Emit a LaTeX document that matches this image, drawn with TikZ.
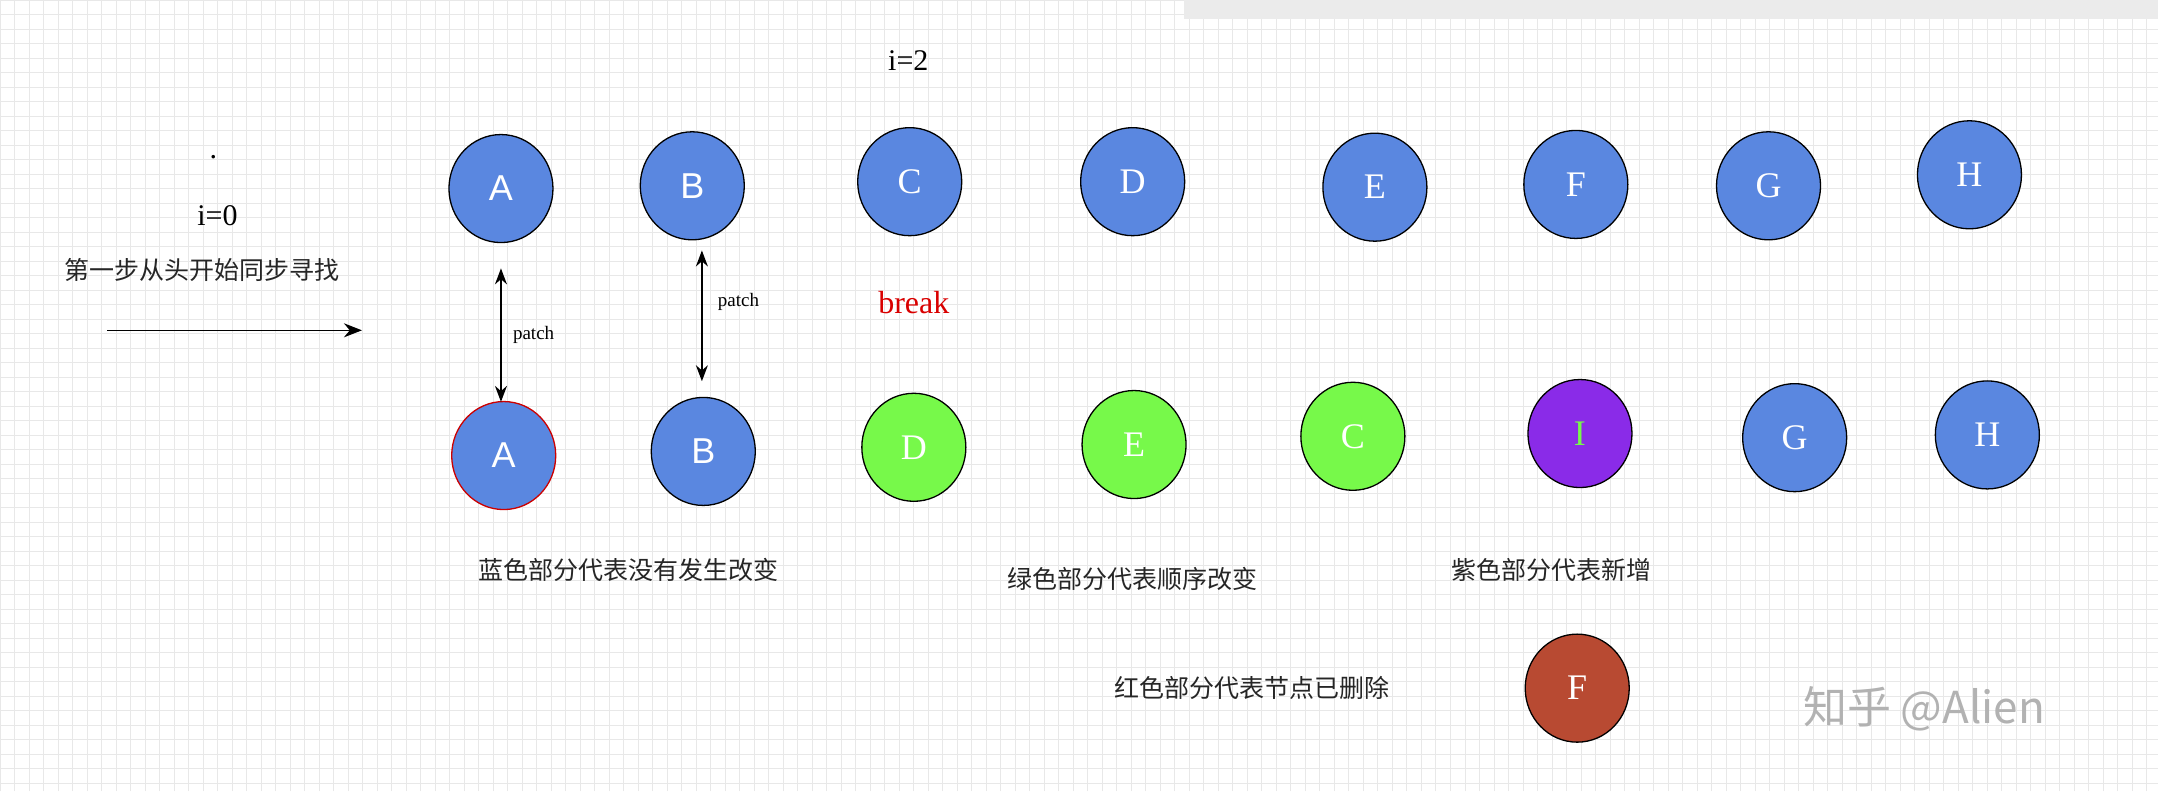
\documentclass[tikz,border=0pt]{standalone}
\usepackage{fontspec}
\setmainfont{Liberation Serif}
\newfontfamily\cjk{Noto Sans CJK SC}
\newfontfamily\lsans{Liberation Sans}
\usetikzlibrary{shapes.geometric,arrows.meta}
\definecolor{nblue}{HTML}{5A87E0}
\definecolor{ngreen}{HTML}{77F94A}
\definecolor{npurple}{HTML}{8A2BE8}
\definecolor{nred}{HTML}{B84A32}
\definecolor{gridc}{HTML}{E8E8E8}
\begin{document}
\begin{tikzpicture}[x=1.376pt,y=-1.376pt,
  nd/.style={ellipse,draw=black,line width=1.3pt,minimum width=104pt,minimum height=108pt,inner sep=0pt,text=white,font=\fontsize{36}{36}\selectfont},
  bl/.style={nd,fill=nblue},
  gr/.style={nd,fill=ngreen},
  lbl/.style={font=\cjk\fontsize{25}{25}\selectfont,text=black!85},
  dbl/.style={{Stealth[length=16pt,width=12pt]}-{Stealth[length=16pt,width=12pt]},line width=1.5pt},
  ]
\useasboundingbox (0,0) rectangle (1568,575);
\fill[white] (0,0) rectangle (1568,575);
\draw[gridc,line width=0.6pt,step=14.5pt] (0,0) grid (1568,575);
\fill[black!8] (860,0) rectangle (1568,14);
\node[bl] (tA) at (364,137) {\lsans A};
\node[bl] (tB) at (503,135) {\lsans B};
\node[bl] (tC) at (661,132) {C};
\node[bl] (tD) at (823,132) {D};
\node[bl] (tE) at (999,136) {E};
\node[bl] (tF) at (1145,134) {F};
\node[bl] (tG) at (1285,135) {G};
\node[bl] (tH) at (1431,127) {H};
\node[bl,draw=red!80!black] (bA) at (366,331) {\lsans A};
\node[bl] (bB) at (511,328) {\lsans B};
\node[gr] (bD) at (664,325) {D};
\node[gr] (bE) at (824,323) {E};
\node[gr] (bC) at (983,317) {C};
\node[nd,fill=npurple,text=ngreen] (bI) at (1148,315) {I};
\node[bl] (bG) at (1304,318) {G};
\node[bl] (bH) at (1444,316) {H};
\node[nd,fill=nred] (dF) at (1146,500) {F};
\coordinate (a1) at (364,195); \coordinate (a2) at (364,292);
\coordinate (b1) at (510,182); \coordinate (b2) at (510,277);
\draw[dbl] (a1) -- node[right,xshift=8pt,font=\fontsize{19}{19}\selectfont] (p1) {patch} (a2);
\draw[dbl] (b1) -- node[right,xshift=12pt,yshift=14pt,font=\fontsize{19}{19}\selectfont] (p2) {patch} (b2);
\coordinate (l1) at (78,240); \coordinate (l2) at (263,240);
\draw[-{Stealth[length=18pt,width=14pt]},line width=1.5pt] (l1) -- (l2);
\node[font=\fontsize{30}{30}\selectfont] (dot) at (155,114) {.};
\node[font=\fontsize{30}{30}\selectfont] (i0) at (158,157) {i=0};
\node[lbl] (step) at (147,196) {第一步从头开始同步寻找};
\node[font=\fontsize{30}{30}\selectfont] (i2) at (660,44) {i=2};
\node[font=\fontsize{32}{32}\selectfont,text=red!85!black] (brk) at (664,220) {break};
\node[lbl] (L1) at (457,414) {蓝色部分代表没有发生改变};
\node[lbl] (L2) at (823,421) {绿色部分代表顺序改变};
\node[lbl] (L3) at (1127,414) {紫色部分代表新增};
\node[lbl] (L4) at (910,500) {红色部分代表节点已删除};
\node[font=\cjk\fontsize{44}{44}\selectfont,text=black!30] (wm) at (1398,515) {知乎 @Alien};
\end{tikzpicture}
\end{document}
